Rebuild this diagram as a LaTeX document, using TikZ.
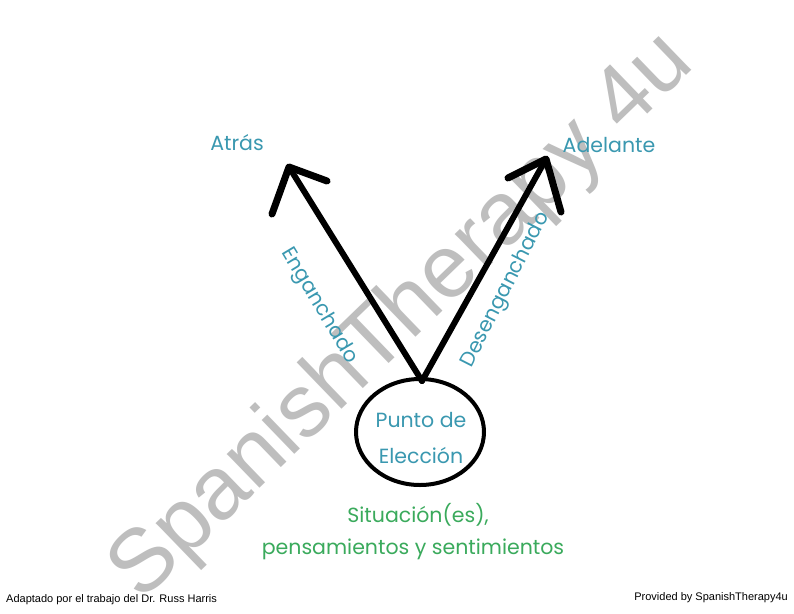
\documentclass[tikz,border=0pt]{standalone}
\usepackage{fontspec}
\setmainfont{Poppins}
\newfontfamily\wmfont{Liberation Sans}
\newfontfamily\footfont{Liberation Sans}
\definecolor{teal}{HTML}{3A98B0}
\definecolor{leaf}{HTML}{3AAA5C}
\definecolor{wm}{HTML}{BEBEBE}
\begin{document}
\begin{tikzpicture}[x=1pt,y=-1pt,
  lbl/.style={text=teal,font=\fontsize{20.5}{24}\selectfont,inner sep=0pt},
  sit/.style={text=leaf,font=\fontsize{20.5}{34}\selectfont,inner sep=0pt,align=center},
  foot/.style={font=\footfont\fontsize{11}{13}\selectfont,inner sep=0pt},
  shaft/.style={line width=6pt,line cap=round,line join=round},
  head/.style={line width=7pt,line cap=round,line join=round}]
\useasboundingbox[fill=white] (0,0) rectangle (794,613);
% watermark
\node[text=wm,font=\wmfont\fontsize{89}{89}\selectfont,rotate=44,inner sep=0pt] (wm) at (403,318) {SpanishTherapy 4u};
% circle
\draw[line width=4pt] (420,432) ellipse [x radius=64, y radius=53];
\coordinate (root) at (422,381);
\coordinate (tipL) at (289,167);
\coordinate (tipR) at (546,159);
\coordinate (bL1) at (327,181);
\coordinate (bL2) at (272,214);
\coordinate (bR1) at (508,178);
\coordinate (bR2) at (561,212);
\draw[shaft] (root) -- (tipL);
\draw[shaft] (root) -- (tipR);
\draw[head] (bL1) -- (tipL) -- (bL2);
\draw[head] (bR1) -- (tipR) -- (bR2);
% labels
\node[lbl] (atras) at (237,143) {Atrás};
\node[lbl] (adel) at (609,145) {Adelante};
\node[lbl,rotate=-59] (eng) at (319,306) {Enganchado};
\node[lbl,rotate=63] (deseng) at (506,290) {Desenganchado};
\node[lbl] (punto) at (421,420) {Punto de};
\node[lbl] (elec) at (421,455) {Elección};
\node[sit] (sit1) at (418,515) {Situación(es),};
\node[sit] (sit2) at (413,549) {pensamientos y sentimientos};
\node[foot,anchor=west] (fl) at (6,600) {Adaptado por el trabajo del Dr. Russ Harris};
\node[foot,anchor=east] (fr) at (788,598) {Provided by SpanishTherapy4u};
\end{tikzpicture}
\end{document}
